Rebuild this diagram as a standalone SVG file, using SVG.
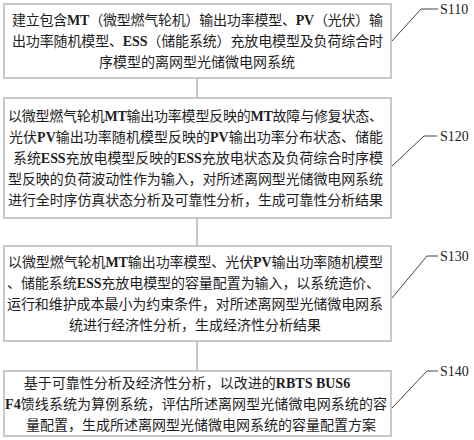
<svg xmlns="http://www.w3.org/2000/svg" width="474" height="440" viewBox="0 0 474 440">
<style>
.box{fill:#fff;stroke:#bcbcbc;stroke-width:1.6}
.t{font-family:"Liberation Serif","Noto Sans CJK SC",serif;font-size:14px;fill:#1e1e1e}
.b{font-weight:bold}
.lab{font-family:"Liberation Serif",serif;font-size:14px;fill:#222}
.conn{stroke:#b4b4b4;stroke-width:1.5;fill:none}
.lead{stroke:#444;stroke-width:1;fill:none}
</style>
<rect width="474" height="440" fill="#fff"/>
<g id="connectors">
<line class="conn" x1="197" y1="78" x2="197" y2="98"/>
<line class="conn" x1="197" y1="218" x2="197" y2="246"/>
<line class="conn" x1="197" y1="341" x2="197" y2="371"/>
<polyline class="lead" points="392,41 421,9 438,9"/>
<polyline class="lead" points="392,166 424,136 437,136"/>
<polyline class="lead" points="392,298 427,256 438,256"/>
<polyline class="lead" points="392,408 427,371 438,371"/>
</g>
<g id="S110">
<rect class="box" x="4" y="4" width="387" height="74"/>
<text class="t" x="12" y="25" textLength="371" lengthAdjust="spacing">建立包含<tspan class="b">MT</tspan>（微型燃气轮机）输出功率模型、<tspan class="b">PV</tspan>（光伏）输</text>
<text class="t" x="12" y="46" textLength="371" lengthAdjust="spacing">出功率随机模型、<tspan class="b">ESS</tspan>（储能系统）充放电模型及负荷综合时</text>
<text class="t" x="197" y="67" text-anchor="middle">序模型的离网型光储微电网系统</text>
<text class="lab" x="440" y="14">S110</text>
</g>
<g id="S120">
<rect class="box" x="4" y="98" width="387" height="120"/>
<text class="t" x="8" y="121" textLength="375" lengthAdjust="spacing">以微型燃气轮机<tspan class="b">MT</tspan>输出功率模型反映的<tspan class="b">MT</tspan>故障与修复状态、</text>
<text class="t" x="9" y="142" textLength="374" lengthAdjust="spacing">光伏<tspan class="b">PV</tspan>输出功率随机模型反映的<tspan class="b">PV</tspan>输出功率分布状态、储能</text>
<text class="t" x="13" y="163" textLength="370" lengthAdjust="spacing">系统<tspan class="b">ESS</tspan>充放电模型反映的<tspan class="b">ESS</tspan>充放电状态及负荷综合时序模</text>
<text class="t" x="8" y="184" textLength="375" lengthAdjust="spacing">型反映的负荷波动性作为输入，对所述离网型光储微电网系统</text>
<text class="t" x="8" y="205" textLength="375" lengthAdjust="spacing">进行全时序仿真状态分析及可靠性分析，生成可靠性分析结果</text>
<text class="lab" x="440" y="141">S120</text>
</g>
<g id="S130">
<rect class="box" x="4" y="246" width="387" height="95"/>
<text class="t" x="8" y="267" textLength="375" lengthAdjust="spacing">以微型燃气轮机<tspan class="b">MT</tspan>输出功率模型、光伏<tspan class="b">PV</tspan>输出功率随机模型</text>
<text class="t" x="7" y="288" textLength="373" lengthAdjust="spacing">、储能系统<tspan class="b">ESS</tspan>充放电模型的容量配置为输入，以系统造价、</text>
<text class="t" x="7" y="309" textLength="376" lengthAdjust="spacing">运行和维护成本最小为约束条件，对所述离网型光储微电网系</text>
<text class="t" x="195" y="330" text-anchor="middle">统进行经济性分析，生成经济性分析结果</text>
<text class="lab" x="440" y="261">S130</text>
</g>
<g id="S140">
<rect class="box" x="4" y="371" width="387" height="65"/>
<text class="t" x="187" y="388" text-anchor="middle">基于可靠性分析及经济性分析，以改进的<tspan class="b">RBTS BUS6</tspan></text>
<text class="t" x="5" y="409" textLength="382" lengthAdjust="spacing"><tspan class="b">F4</tspan>馈线系统为算例系统，评估所述离网型光储微电网系统的容</text>
<text class="t" x="201" y="430" text-anchor="middle">量配置，生成所述离网型光储微电网系统的容量配置方案</text>
<text class="lab" x="440" y="376">S140</text>
</g>
</svg>
